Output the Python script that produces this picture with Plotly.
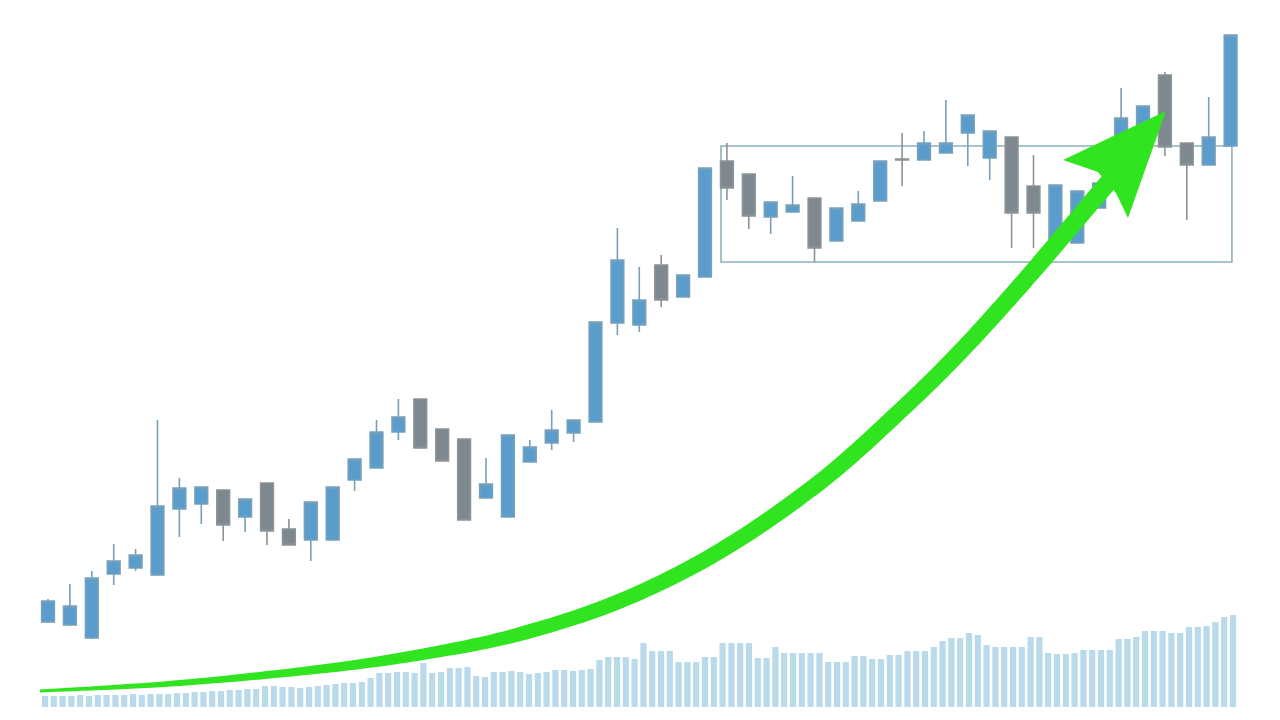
import numpy as np
import plotly.graph_objects as go

# price candles (one per session)
opens = [19.5, 18.75, 15.5, 31.5, 33, 31.25, 47.75, 49, 52.5, 45.75,
         54.25, 42.75, 40, 40, 55, 58, 67, 75.25, 67.75, 65.25,
         50.5, 45.75, 59.5, 64.25, 66.75, 69.5, 94.25, 93.75, 108.75, 100.75,
         105.75, 134.75, 131.5, 120.75, 122, 125.5, 114.75, 119.75, 124.75, 135.25,
         135, 136.75, 141.75, 135.5, 140.75, 128.5, 114, 114.25, 123, 141.25,
         143.75, 156.25, 139.25, 133.75, 138.5]
highs = [25.25, 29, 32.25, 39, 37.75, 70, 55.5, 53.25, 52.5, 50.25,
         54.25, 45.25, 49.5, 53.25, 60.25, 70, 75.25, 75.25, 67.75, 65.25,
         60.5, 66.25, 65, 72.5, 70, 94.5, 118, 108.25, 111.25, 106.25,
         133, 139.25, 131.5, 124.5, 131, 125.5, 123, 127.25, 134.75, 141.75,
         142.25, 150, 146.25, 142.25, 140.75, 136.25, 128.75, 127.25, 129.25, 153,
         148.5, 157, 139.25, 150.75, 166.25]
lows = [19.25, 18.5, 15.25, 28.75, 32.25, 31, 40.75, 44, 39.75, 42,
        38.75, 38.75, 34.75, 40, 52.25, 58, 65, 63, 59.75, 45,
        50.5, 45.75, 59.5, 62.5, 64.5, 69.5, 91.25, 92, 98.25, 100.75,
        105.75, 125, 117.75, 116.5, 122, 109.5, 114.75, 119.75, 124.75, 128.5,
        135, 136.75, 133.5, 130, 113, 113, 114, 114.25, 123, 141.25,
        143.75, 136, 120, 133.75, 138.5]
closes = [24.75, 23.5, 30.5, 34.75, 36.25, 48.5, 53, 53.25, 43.75, 50.25,
          42.25, 38.75, 49.5, 53.25, 60.25, 67, 70.75, 63, 59.75, 45,
          54, 66.25, 63.25, 67.5, 70, 94.5, 110, 100, 100, 106.25,
          133, 128, 121, 124.5, 123.75, 113, 123, 124, 134.75, 135,
          139.25, 139.25, 146.25, 142.25, 121.75, 121.75, 128.75, 127.25, 129.25, 145.5,
          148.5, 138.25, 133.75, 140.75, 166.25]

# traded volume (finer sampling than the candles)
volumes = [11, 11, 11, 11, 12, 11, 12, 12, 12, 12,
           13, 12, 13, 13, 13, 14, 14, 15, 15, 16,
           16, 17, 17, 18, 18, 21, 21, 20, 20, 19,
           20, 21, 22, 23, 24, 24, 25, 29, 34, 34,
           35, 35, 34, 44, 34, 35, 39, 39, 40, 31,
           30, 35, 35, 36, 35, 33, 34, 35, 37, 37,
           36, 37, 38, 47, 50, 50, 50, 48, 64, 56,
           56, 56, 45, 45, 45, 50, 50, 64, 64, 64,
           64, 49, 49, 60, 54, 54, 54, 54, 54, 45,
           45, 45, 51, 51, 48, 48, 52, 52, 56, 56,
           56, 60, 66, 69, 69, 74, 72, 62, 60, 60,
           60, 60, 70, 70, 54, 53, 53, 54, 57, 57,
           57, 57, 68, 68, 70, 76, 76, 76, 74, 74,
           80, 80, 81, 85, 90, 92]

candle_x = list(range(len(opens)))
volume_x = list(range(len(volumes)))

# consolidation box (candle index / price)
box_x = [30.73, 54.06]
box_y = [109.5, 138.5]

W, H = 1280, 720

fig = go.Figure()

fig.add_trace(go.Bar(x=volume_x, y=volumes, xaxis="x2", yaxis="y2", width=0.7,
                     marker=dict(color="#b9daeb", line=dict(width=0)), hoverinfo="skip"))

fig.add_trace(go.Candlestick(
    x=candle_x, open=opens, high=highs, low=lows, close=closes,
    increasing=dict(fillcolor="#5a9dcd", line=dict(color="#76a0bb", width=1.6)),
    decreasing=dict(fillcolor="#7e888f", line=dict(color="#8a9398", width=1.6)),
    whiskerwidth=0,
))

shapes = [dict(type="rect", xref="x", yref="y", x0=box_x[0], x1=box_x[1], y0=box_y[0], y1=box_y[1],
               line=dict(color="#8db3b8", width=1.6), layer="below")]

# green trend arrow, drawn in pixel space and converted to paper
arrow_pts = np.array([(40, 691), (180, 683), (330, 668), (430, 653), (520, 634), (620, 601),
                      (720, 551), (820, 482), (900, 411), (960, 352), (1020, 286), (1073, 224),
                      (1112, 178)], float)
arrow_wx = [40, 330, 520, 720, 1000, 1112]
arrow_ww = [3, 9, 14, 16, 17, 18]


def catmull(pts, n=16):
    P = np.vstack([pts[0], pts, pts[-1]])
    out = []
    for i in range(1, len(P) - 2):
        p0, p1, p2, p3 = P[i - 1], P[i], P[i + 1], P[i + 2]
        for t in np.linspace(0, 1, n, endpoint=False):
            out.append(0.5 * (2 * p1 + (-p0 + p2) * t + (2 * p0 - 5 * p1 + 4 * p2 - p3) * t * t
                              + (-p0 + 3 * p1 - 3 * p2 + p3) * t ** 3))
    out.append(P[-2])
    return np.array(out)


c = catmull(arrow_pts)
d = np.gradient(c, axis=0)
d /= np.linalg.norm(d, axis=1)[:, None]
nrm = np.column_stack([-d[:, 1], d[:, 0]])
half = np.interp(c[:, 0], arrow_wx, arrow_ww)[:, None] / 2
poly = np.vstack([c + nrm * half, (c - nrm * half)[::-1]])


def to_path(p):
    s = " L ".join(f"{x / W:.5f},{1 - y / H:.5f}" for x, y in p)
    return "M " + s + " Z"


green = "#30e41f"
shapes.append(dict(type="path", xref="paper", yref="paper", path=to_path(poly),
                   fillcolor=green, line=dict(width=0), layer="above"))
head = [(1166, 111), (1063, 160), (1098, 172), (1116, 193), (1128, 218)]
shapes.append(dict(type="path", xref="paper", yref="paper", path=to_path(head),
                   fillcolor=green, line=dict(width=0), layer="above"))

spacing = 21.9
x0 = -48 / spacing
vspacing = 8.8
vx0 = -45 / vspacing

fig.update_layout(
    width=W, height=H,
    margin=dict(l=0, r=0, t=0, b=0),
    paper_bgcolor="white", plot_bgcolor="white",
    showlegend=False,
    boxgap=0.42, boxgroupgap=0,
    xaxis=dict(range=[x0, x0 + W / spacing], visible=False, rangeslider=dict(visible=False), fixedrange=True),
    yaxis=dict(range=[-5, 175], visible=False),
    xaxis2=dict(range=[vx0, vx0 + W / vspacing], visible=False, overlaying="x", anchor="y2"),
    yaxis2=dict(range=[-13, 707], visible=False, overlaying="y", anchor="x2"),
    shapes=shapes,
)

fig.write_html("out.html", config={"displayModeBar": False},
               post_script="document.body.style.margin='0';")
